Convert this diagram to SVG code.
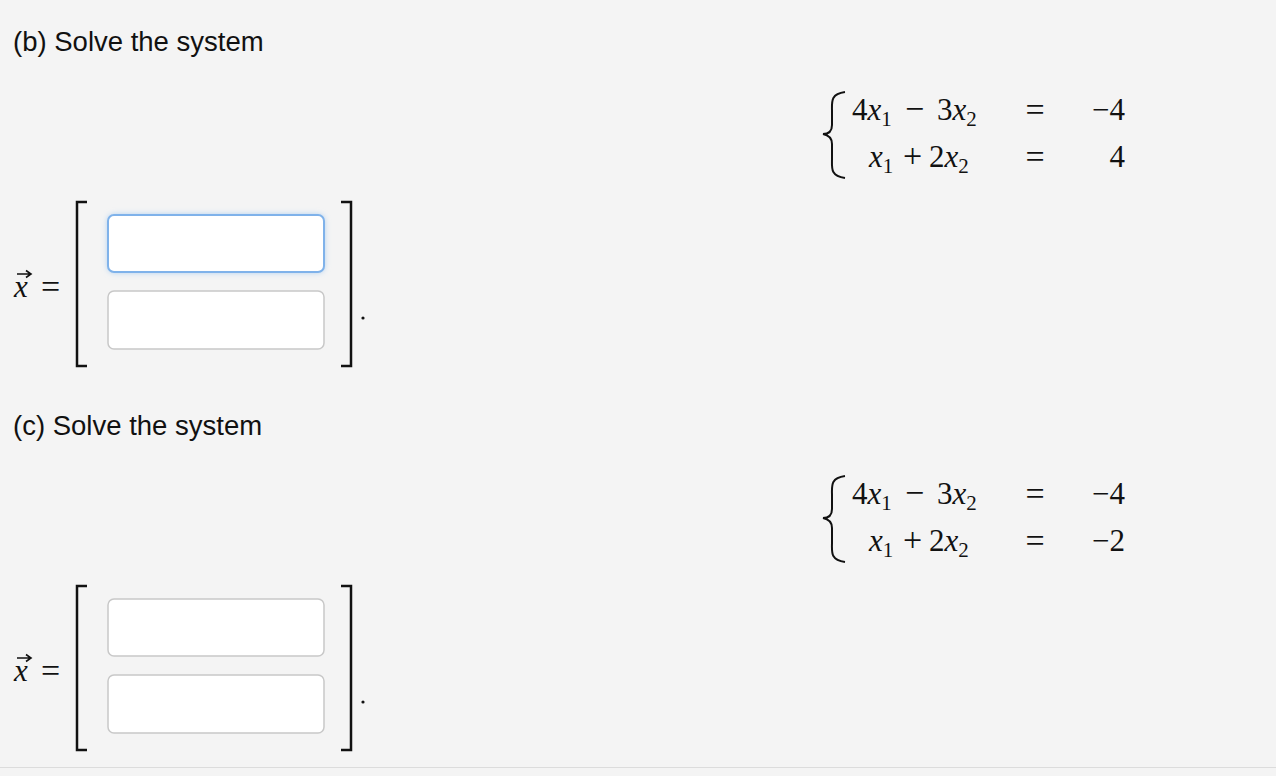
<svg xmlns="http://www.w3.org/2000/svg" width="1276" height="776" viewBox="0 0 1276 776">
<style>
.h{font-family:"Liberation Sans",Arial,sans-serif;font-size:27.5px;fill:#111}
.m{font-family:"Liberation Serif","Times New Roman",serif;font-size:31px;fill:#111}
.s{font-size:21px}
.o{font-size:34px}
.box{fill:#fff;stroke:#c8c8c8;stroke-width:1.5}
.f{stroke:#7fb2ea;stroke-width:2}
.br{fill:none;stroke:#111;stroke-width:2.5}
</style>
<defs><filter id="g" x="-10%" y="-20%" width="120%" height="140%"><feGaussianBlur stdDeviation="3"/></filter></defs>
<rect width="1276" height="776" fill="#f4f4f4"/>
<line x1="0" y1="767.5" x2="1276" y2="767.5" stroke="#dcdcdc"/>
<g id="b">
<text class="h" x="13" y="51">(b) Solve the system</text>
<g id="sysb">
<path d="M845 92 C830 94 832 102 832 112 L832 125 C832 132 828 134 823 134 C828 135 832 137 832 144 L832 158 C832 168 830 176 845 178" fill="none" stroke="#111" stroke-width="2"/>
<text class="m" y="120"><tspan x="852">4</tspan><tspan font-style="italic">x</tspan><tspan class="s" dy="6">1</tspan><tspan class="o" dy="-6" x="905">−</tspan><tspan x="937">3</tspan><tspan font-style="italic">x</tspan><tspan class="s" dy="6">2</tspan></text>
<text class="m" y="167"><tspan font-style="italic" x="869">x</tspan><tspan class="s" dy="6">1</tspan><tspan class="o" dy="-6" x="903">+</tspan><tspan x="929">2</tspan><tspan font-style="italic">x</tspan><tspan class="s" dy="6">2</tspan></text>
<text class="m o" x="1035" y="121" text-anchor="middle">=</text>
<text class="m o" x="1035" y="168" text-anchor="middle">=</text>
<text class="m" x="1125" y="120" text-anchor="end">−4</text>
<text class="m" x="1125" y="167" text-anchor="end">4</text>
</g>
<g id="vb">
<text class="m" font-style="italic" x="14" y="297">x</text>
<path d="M17 274 L30 274 M26 270.5 L31 274 L26 277.5" fill="none" stroke="#111" stroke-width="1.6"/>
<text class="m o" x="41" y="298">=</text>
<path class="br" d="M87 202 L77 202 L77 366 L87 366"/>
<path class="br" d="M341 202 L351 202 L351 366 L341 366"/>
<circle cx="363" cy="318" r="1.6" fill="#111"/>
<rect x="108" y="215" width="216" height="57" rx="6" fill="#9cc6f0" filter="url(#g)"/>
<rect class="box f" x="108" y="215" width="216" height="57" rx="6"/>
<rect class="box" x="108" y="291" width="216" height="58" rx="6"/>
</g>
</g>
<g id="c" transform="translate(0,384)">
<text class="h" x="13" y="51">(c) Solve the system</text>
<g id="sysc">
<path d="M845 92 C830 94 832 102 832 112 L832 125 C832 132 828 134 823 134 C828 135 832 137 832 144 L832 158 C832 168 830 176 845 178" fill="none" stroke="#111" stroke-width="2"/>
<text class="m" y="120"><tspan x="852">4</tspan><tspan font-style="italic">x</tspan><tspan class="s" dy="6">1</tspan><tspan class="o" dy="-6" x="905">−</tspan><tspan x="937">3</tspan><tspan font-style="italic">x</tspan><tspan class="s" dy="6">2</tspan></text>
<text class="m" y="167"><tspan font-style="italic" x="869">x</tspan><tspan class="s" dy="6">1</tspan><tspan class="o" dy="-6" x="903">+</tspan><tspan x="929">2</tspan><tspan font-style="italic">x</tspan><tspan class="s" dy="6">2</tspan></text>
<text class="m o" x="1035" y="121" text-anchor="middle">=</text>
<text class="m o" x="1035" y="168" text-anchor="middle">=</text>
<text class="m" x="1125" y="120" text-anchor="end">−4</text>
<text class="m" x="1125" y="167" text-anchor="end">−2</text>
</g>
<g id="vc">
<text class="m" font-style="italic" x="14" y="297">x</text>
<path d="M17 274 L30 274 M26 270.5 L31 274 L26 277.5" fill="none" stroke="#111" stroke-width="1.6"/>
<text class="m o" x="41" y="298">=</text>
<path class="br" d="M87 202 L77 202 L77 366 L87 366"/>
<path class="br" d="M341 202 L351 202 L351 366 L341 366"/>
<circle cx="363" cy="318" r="1.6" fill="#111"/>
<rect class="box" x="108" y="215" width="216" height="57" rx="6"/>
<rect class="box" x="108" y="291" width="216" height="58" rx="6"/>
</g>
</g>
</svg>
